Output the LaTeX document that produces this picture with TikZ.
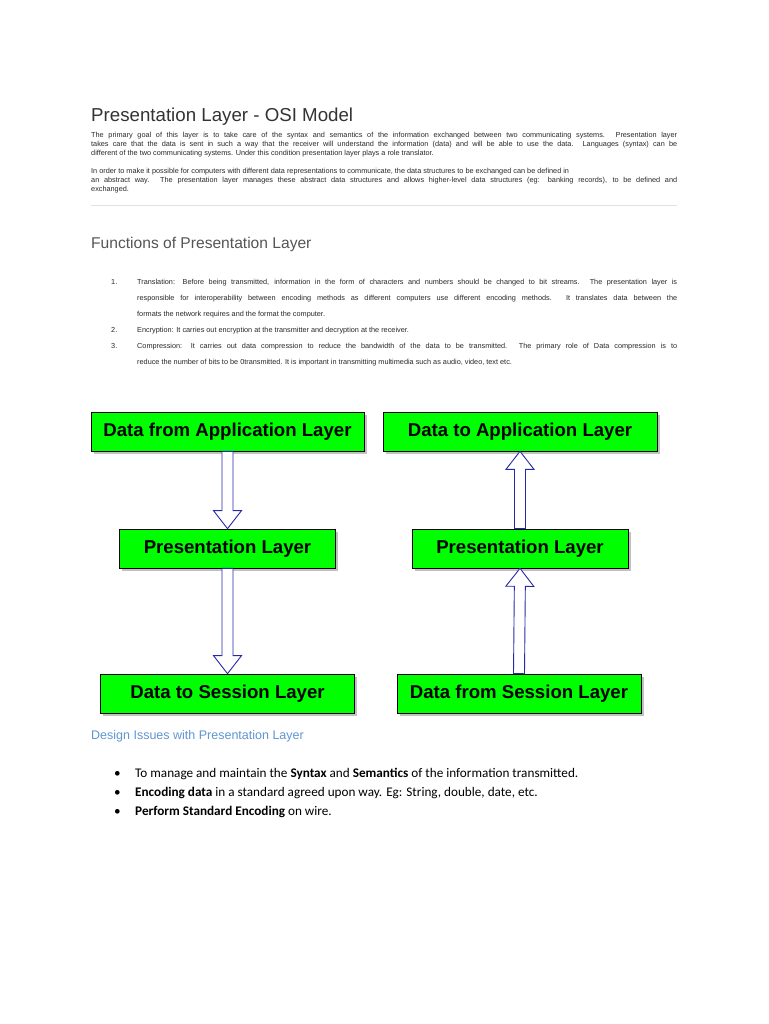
\documentclass[tikz,border=0pt]{standalone}
\usepackage{fontspec}
\setmainfont{Liberation Sans}
\newfontfamily\calibrifont{Carlito}
\usetikzlibrary{calc,shadows}
\definecolor{LayerGreen}{RGB}{0,255,0}
\definecolor{ArrowBlue}{RGB}{40,40,170}
\definecolor{TitleGray}{RGB}{51,51,51}
\definecolor{HeadGray}{RGB}{85,85,85}
\definecolor{BodyGray}{RGB}{40,40,40}
\definecolor{IssueBlue}{RGB}{95,150,210}
\definecolor{RuleGray}{RGB}{225,225,225}

\begin{document}
\begin{tikzpicture}[x=1pt, y=-1pt,
        layerbox/.style={draw=black, line width=0.7pt, fill=LayerGreen, minimum height=39pt, inner sep=0pt,
            font=\fontsize{18.6}{21}\selectfont\bfseries,
            drop shadow={shadow xshift=2.5pt, shadow yshift=-2.5pt, fill=black!40, opacity=0.6}},
        fatarrow/.style={draw=ArrowBlue, fill=white, line width=0.9pt, line join=miter,
            to path={let \p1=($(\tikztotarget)!18pt!(\tikztostart)$) in
                ($(\tikztostart)!5.5pt!90:(\tikztotarget)$) -- ($(\p1)!5.5pt!90:(\tikztotarget)$)
                -- ($(\p1)!14pt!90:(\tikztotarget)$) -- (\tikztotarget)
                -- ($(\p1)!14pt!-90:(\tikztotarget)$) -- ($(\p1)!5.5pt!-90:(\tikztotarget)$)
                -- ($(\tikztostart)!5.5pt!-90:(\tikztotarget)$) -- cycle}},
        bodytext/.style={anchor=north west, inner sep=0pt, text width=586pt, align=justify,
            font=\fontsize{7.3}{9}\selectfont, text=BodyGray},
        listtext/.style={bodytext, text width=540pt, font=\fontsize{7.3}{16}\selectfont},
        bullettext/.style={anchor=base west, inner sep=0pt, font=\calibrifont\fontsize{13.2}{16}\selectfont, text=black}
    ]
        % Page
        \fill[white] (0,0) rectangle (768,1024);
        \useasboundingbox (0,0) rectangle (768,1024);
        % Heading and introduction
        \node[anchor=base west, inner sep=0pt, text=TitleGray, font=\fontsize{18.7}{22}\selectfont] (title) at (91,122) {Presentation Layer - OSI Model};
        \node[bodytext] (intro1) at (91,131.7) {The primary goal of this layer is to take care of the syntax and semantics of the information exchanged between two communicating systems. Presentation layer\linebreak takes care that the data is sent in such a way that the receiver will understand the information (data) and will be able to use the data. Languages (syntax) can be\linebreak different of the two communicating systems. Under this condition presentation layer plays a role translator.};
        \node[bodytext] (intro2) at (91,167.7) {In order to make it possible for computers with different data representations to communicate, the data structures to be exchanged can be defined in\hfill\null\linebreak an abstract way. The presentation layer manages these abstract data structures and allows higher-level data structures (eg: banking records), to be defined and\linebreak exchanged.};
        \draw[RuleGray, line width=0.8pt] (91,205) -- (677,205);
        % Functions list
        \node[anchor=base west, inner sep=0pt, text=HeadGray, font=\fontsize{15.6}{18}\selectfont] (functions) at (91,248) {Functions of Presentation Layer};
        \foreach \n/\y in {1/284,2/332,3/348} {
            \node[anchor=base west, inner sep=0pt, font=\fontsize{7.3}{9}\selectfont, text=BodyGray] (num\n) at (111,\y) {\n.};
        }
        \node[listtext] (item1) at (137,278.7) {Translation: Before being transmitted, information in the form of characters and numbers should be changed to bit streams. The presentation layer is\linebreak responsible for interoperability between encoding methods as different computers use different encoding methods. It translates data between the\linebreak formats the network requires and the format the computer.};
        \node[listtext] (item2) at (137,326.7) {Encryption: It carries out encryption at the transmitter and decryption at the receiver.};
        \node[listtext] (item3) at (137,342.7) {Compression: It carries out data compression to reduce the bandwidth of the data to be transmitted. The primary role of Data compression is to\linebreak reduce the number of bits to be 0transmitted. It is important in transmitting multimedia such as audio, video, text etc.};
        % Sending side
        \node[layerbox, minimum width=273pt] (appL) at (227.5,431.5) {Data from Application Layer};
        \node[layerbox, minimum width=216pt] (presL) at (227.5,548.5) {Presentation Layer};
        \node[layerbox, minimum width=254pt] (sessL) at (227.5,693.5) {Data to Session Layer};
        \draw[fatarrow] (appL.south) to (presL.north);
        \draw[fatarrow] (presL.south) to (sessL.north);
        % Receiving side
        \node[layerbox, minimum width=274pt] (appR) at (520,431.5) {Data to Application Layer};
        \node[layerbox, minimum width=216pt] (presR) at (520,548.5) {Presentation Layer};
        \node[layerbox, minimum width=244pt] (sessR) at (519,693.5) {Data from Session Layer};
        \draw[fatarrow] (presR.north) to (appR.south);
        \draw[fatarrow] (sessR.north) to (presR.south);
        % Design issues
        \node[anchor=base west, inner sep=0pt, text=IssueBlue, font=\fontsize{12.5}{15}\selectfont] (issues) at (91,739) {Design Issues with Presentation Layer};
        \foreach \b/\y in {1/777,2/796,3/815} {
            \node[bullettext] (dot\b) at (114,\y) {•};
        }
        \node[bullettext] (issue1) at (135,777) {To manage and maintain the \textbf{Syntax} and \textbf{Semantics} of the information transmitted.};
        \node[bullettext] (issue2) at (135,796) {\textbf{Encoding data} in a standard agreed upon way. Eg: String, double, date, etc.};
        \node[bullettext] (issue3) at (135,815) {\textbf{Perform Standard Encoding} on wire.};
    \end{tikzpicture}
\end{document}
